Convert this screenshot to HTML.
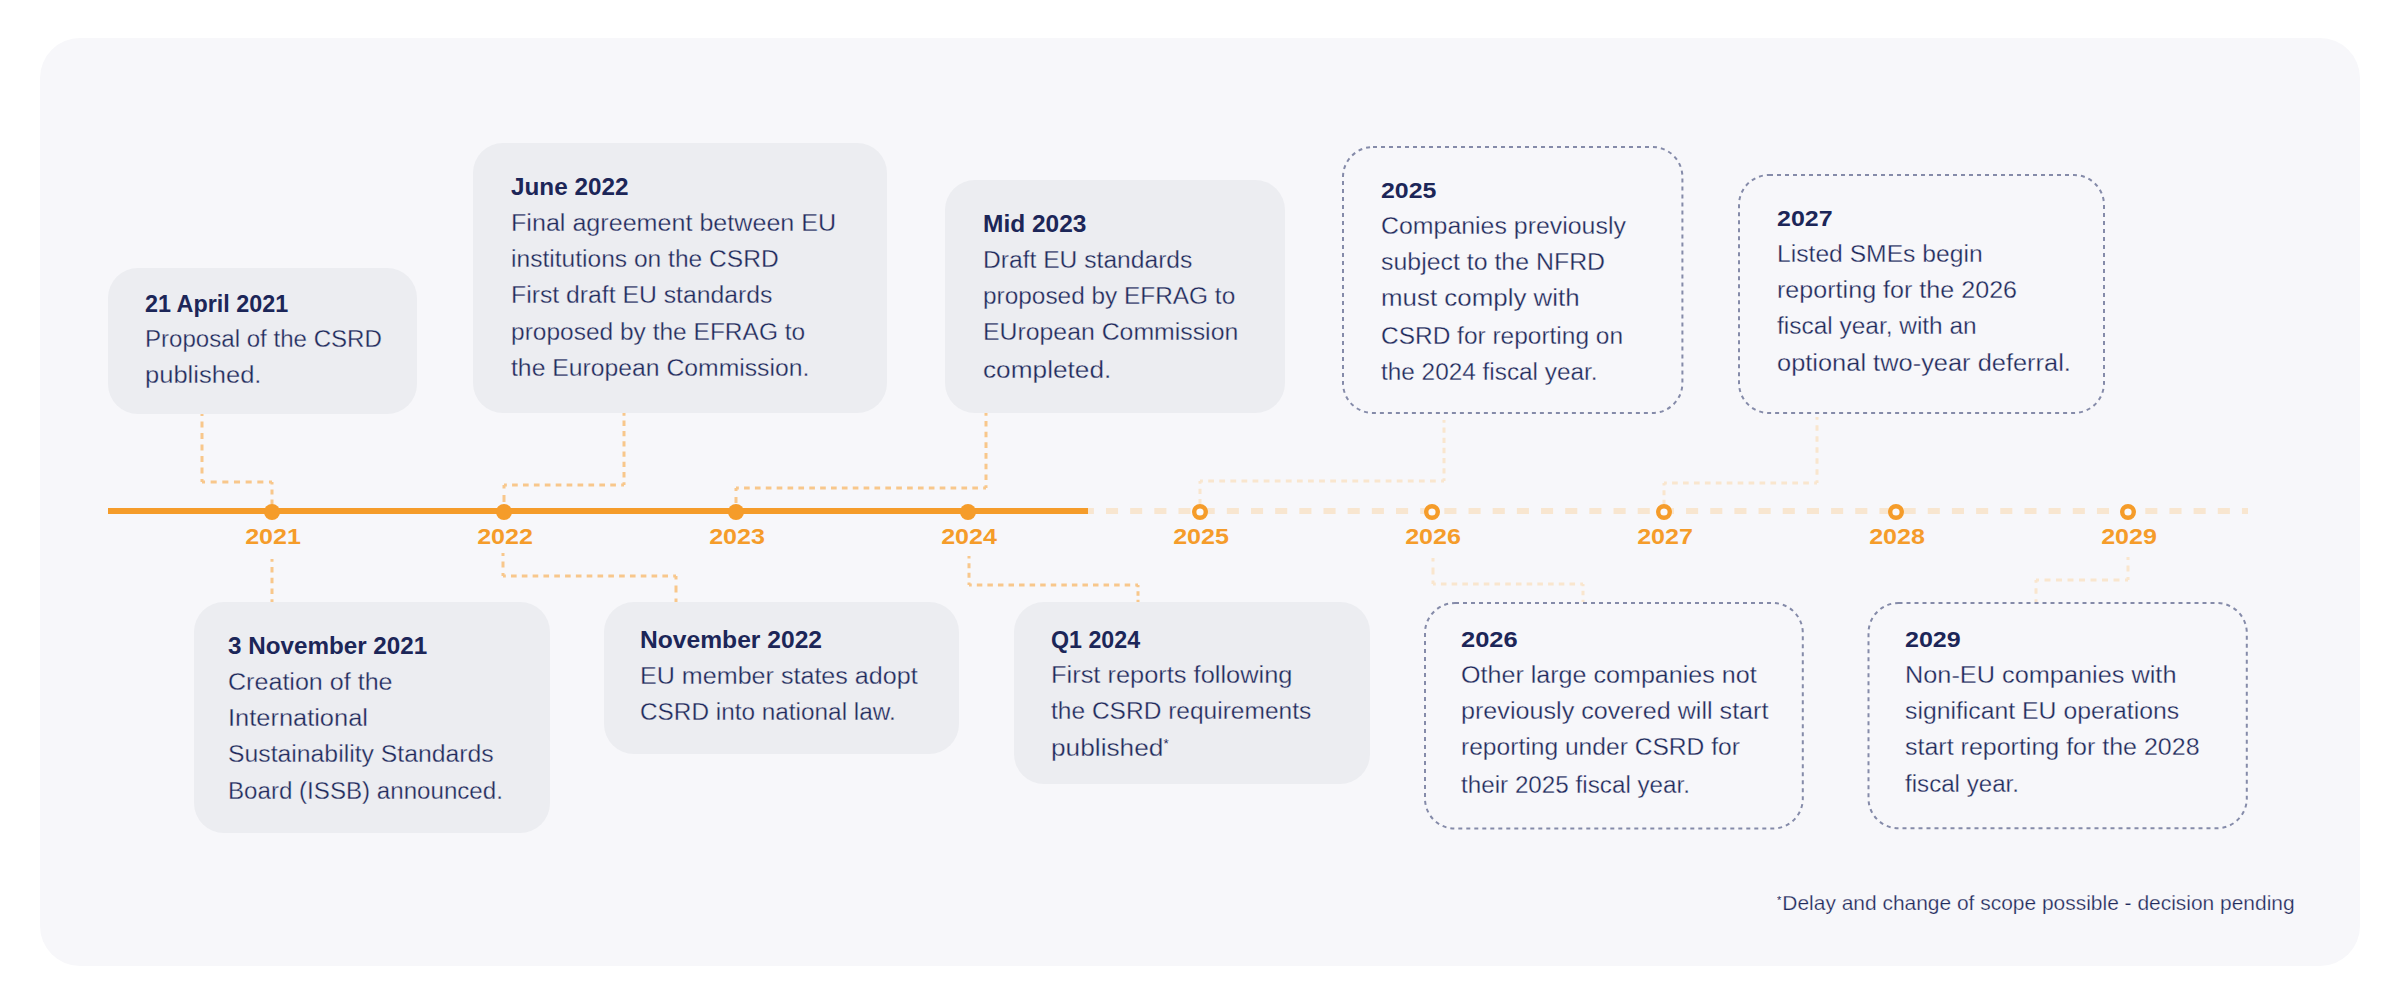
<!DOCTYPE html>
<html>
<head>
<meta charset="utf-8">
<style>
html,body{margin:0;padding:0;background:#ffffff;}
body{width:2400px;height:1002px;position:relative;overflow:hidden;font-family:"Liberation Sans",sans-serif;}
#wrap{position:absolute;left:40px;top:38px;width:2320px;height:928px;background:#f7f7fa;border-radius:40px;}
svg#lines{position:absolute;left:0;top:0;}
.box{position:absolute;box-sizing:border-box;background:#ecedf1;border-radius:30px;}
.l,.t{position:absolute;white-space:nowrap;line-height:36px;transform-origin:0 0;}
.l{font-size:24.7px;color:#1f2a5c;-webkit-text-stroke:0.3px #ecedf1;}
.l.d{-webkit-text-stroke-color:#f7f7fa;}
.t{font-size:24px;font-weight:bold;color:#1c2658;}
.t.n{font-size:21.5px;}
.l sup{font-size:12.5px;line-height:0;vertical-align:8.5px;-webkit-text-stroke:0;}
.yr{position:absolute;width:120px;margin-left:-60px;text-align:center;font-weight:bold;font-size:21.5px;line-height:30px;color:#f59c2a;transform:scaleX(1.165);}
.foot{position:absolute;font-size:20.8px;line-height:26px;color:#1f2a5c;-webkit-text-stroke:0.25px #f7f7fa;white-space:nowrap;transform-origin:0 0;}
.foot sup{font-size:11px;line-height:0;vertical-align:6px;margin-right:1px;-webkit-text-stroke:0;}
</style>
</head>
<body>
<div id="wrap"></div>
<svg id="lines" width="2400" height="1002" viewBox="0 0 2400 1002">
  <g fill="none" stroke="#858ba9" stroke-width="2" stroke-dasharray="4 4">
    <rect x="1343" y="147" width="339.4" height="266" rx="30"/>
    <rect x="1739" y="175" width="365" height="238" rx="30"/>
    <rect x="1425" y="603" width="377.8" height="225.6" rx="30"/>
    <rect x="1868.5" y="603" width="378.3" height="225.3" rx="30"/>
  </g>
<g fill="none">
<line x1="202" y1="413" x2="202" y2="482" stroke="#f8c78b" stroke-width="3" stroke-dasharray="5.980 5.520" stroke-dashoffset="2.990"/>
<line x1="202" y1="482" x2="272" y2="482" stroke="#f8c78b" stroke-width="3" stroke-dasharray="6.067 5.600" stroke-dashoffset="3.033"/>
<line x1="272" y1="482" x2="272" y2="512" stroke="#f8c78b" stroke-width="3" stroke-dasharray="5.200 4.800" stroke-dashoffset="2.600"/>
<line x1="624" y1="413" x2="624" y2="485" stroke="#f8c78b" stroke-width="3" stroke-dasharray="5.349 4.937" stroke-dashoffset="2.674"/>
<line x1="624" y1="485" x2="504" y2="485" stroke="#f8c78b" stroke-width="3" stroke-dasharray="5.673 5.236" stroke-dashoffset="2.836"/>
<line x1="504" y1="485" x2="504" y2="512" stroke="#f8c78b" stroke-width="3" stroke-dasharray="7.020 6.480" stroke-dashoffset="3.510"/>
<line x1="986" y1="413" x2="986" y2="488" stroke="#f8c78b" stroke-width="3" stroke-dasharray="5.571 5.143" stroke-dashoffset="2.786"/>
<line x1="986" y1="488" x2="736" y2="488" stroke="#f8c78b" stroke-width="3" stroke-dasharray="5.652 5.217" stroke-dashoffset="2.826"/>
<line x1="736" y1="488" x2="736" y2="512" stroke="#f8c78b" stroke-width="3" stroke-dasharray="6.240 5.760" stroke-dashoffset="3.120"/>
<line x1="272" y1="559" x2="272" y2="602" stroke="#f8c78b" stroke-width="3" stroke-dasharray="5.590 5.160" stroke-dashoffset="2.795"/>
<line x1="503" y1="553" x2="503" y2="576" stroke="#f8c78b" stroke-width="3" stroke-dasharray="5.980 5.520" stroke-dashoffset="2.990"/>
<line x1="503" y1="576" x2="676" y2="576" stroke="#f8c78b" stroke-width="3" stroke-dasharray="5.623 5.190" stroke-dashoffset="2.811"/>
<line x1="676" y1="576" x2="676" y2="602" stroke="#f8c78b" stroke-width="3" stroke-dasharray="6.760 6.240" stroke-dashoffset="3.380"/>
<line x1="969" y1="556" x2="969" y2="585" stroke="#f8c78b" stroke-width="3" stroke-dasharray="5.027 4.640" stroke-dashoffset="2.513"/>
<line x1="969" y1="585" x2="1138" y2="585" stroke="#f8c78b" stroke-width="3" stroke-dasharray="5.493 5.070" stroke-dashoffset="2.746"/>
<line x1="1138" y1="585" x2="1138" y2="602" stroke="#f8c78b" stroke-width="3" stroke-dasharray="4.420 4.080" stroke-dashoffset="2.210"/>
<line x1="1444" y1="420" x2="1444" y2="481" stroke="#f9e6ce" stroke-width="3" stroke-dasharray="5.287 4.880" stroke-dashoffset="2.643"/>
<line x1="1444" y1="481" x2="1200" y2="481" stroke="#f9e6ce" stroke-width="3" stroke-dasharray="5.767 5.324" stroke-dashoffset="2.884"/>
<line x1="1200" y1="481" x2="1200" y2="512" stroke="#f9e6ce" stroke-width="3" stroke-dasharray="5.373 4.960" stroke-dashoffset="2.687"/>
<line x1="1817" y1="417" x2="1817" y2="483" stroke="#f9e6ce" stroke-width="3" stroke-dasharray="5.720 5.280" stroke-dashoffset="2.860"/>
<line x1="1817" y1="483" x2="1664" y2="483" stroke="#f9e6ce" stroke-width="3" stroke-dasharray="5.683 5.246" stroke-dashoffset="2.841"/>
<line x1="1664" y1="483" x2="1664" y2="512" stroke="#f9e6ce" stroke-width="3" stroke-dasharray="5.027 4.640" stroke-dashoffset="2.513"/>
<line x1="1433" y1="558" x2="1433" y2="584" stroke="#f9e6ce" stroke-width="3" stroke-dasharray="6.760 6.240" stroke-dashoffset="3.380"/>
<line x1="1433" y1="584" x2="1583" y2="584" stroke="#f9e6ce" stroke-width="3" stroke-dasharray="5.571 5.143" stroke-dashoffset="2.786"/>
<line x1="1583" y1="584" x2="1583" y2="602" stroke="#f9e6ce" stroke-width="3" stroke-dasharray="4.680 4.320" stroke-dashoffset="2.340"/>
<line x1="2128" y1="557" x2="2128" y2="580" stroke="#f9e6ce" stroke-width="3" stroke-dasharray="5.980 5.520" stroke-dashoffset="2.990"/>
<line x1="2128" y1="580" x2="2036" y2="580" stroke="#f9e6ce" stroke-width="3" stroke-dasharray="5.980 5.520" stroke-dashoffset="2.990"/>
<line x1="2036" y1="580" x2="2036" y2="602" stroke="#f9e6ce" stroke-width="3" stroke-dasharray="5.720 5.280" stroke-dashoffset="2.860"/>
</g>
  <path d="M1081.8,511 H2248" stroke="#f8e6d0" stroke-width="6" stroke-dasharray="12.085 12.085" fill="none"/>
  <path d="M108,511 H1088" stroke="#f59c2a" stroke-width="6" fill="none"/>
  <g fill="#f59c2a">
    <circle cx="272" cy="512" r="8"/>
    <circle cx="504" cy="512" r="8"/>
    <circle cx="736" cy="512" r="8"/>
    <circle cx="968" cy="512" r="8"/>
  </g>
  <g fill="#f9f9fb" stroke="#f59c2a" stroke-width="4.4">
    <circle cx="1200" cy="512" r="5.8"/>
    <circle cx="1432" cy="512" r="5.8"/>
    <circle cx="1664" cy="512" r="5.8"/>
    <circle cx="1896" cy="512" r="5.8"/>
    <circle cx="2128" cy="512" r="5.8"/>
  </g>
</svg>
<div class="box" style="left:108px;top:268px;width:309px;height:145.5px;"></div>
<div class="box" style="left:473px;top:143px;width:413.5px;height:270.4px;"></div>
<div class="box" style="left:944.7px;top:180px;width:340.7px;height:233px;"></div>
<div class="box" style="left:194px;top:602px;width:355.7px;height:231.3px;"></div>
<div class="box" style="left:603.8px;top:602px;width:355.7px;height:151.8px;"></div>
<div class="box" style="left:1013.8px;top:602px;width:356.1px;height:181.7px;"></div>
<div class="t" style="left:144.8px;top:285.6px;transform:scaleX(0.9727);">21 April 2021</div>
<div class="l" style="left:144.8px;top:321.3px;transform:scaleX(0.9752);">Proposal of the CSRD</div>
<div class="l" style="left:144.8px;top:357.2px;transform:scaleX(1.0345);">published.</div>
<div class="t" style="left:511.4px;top:169.4px;transform:scaleX(1.0122);">June 2022</div>
<div class="l" style="left:511.4px;top:205.1px;transform:scaleX(1.0170);">Final agreement between EU</div>
<div class="l" style="left:511.4px;top:241.1px;transform:scaleX(0.9955);">institutions on the CSRD</div>
<div class="l" style="left:511.4px;top:277.0px;transform:scaleX(1.0031);">First draft EU standards</div>
<div class="l" style="left:511.4px;top:313.6px;transform:scaleX(0.9926);">proposed by the EFRAG to</div>
<div class="l" style="left:511.4px;top:350.3px;transform:scaleX(1.0020);">the European Commission.</div>
<div class="t" style="left:982.8px;top:205.6px;transform:scaleX(1.0199);">Mid 2023</div>
<div class="l" style="left:982.8px;top:241.7px;transform:scaleX(0.9972);">Draft EU standards</div>
<div class="l" style="left:982.8px;top:278.0px;transform:scaleX(0.9882);">proposed by EFRAG to</div>
<div class="l" style="left:982.8px;top:313.9px;transform:scaleX(1.0056);">EUropean Commission</div>
<div class="l" style="left:982.8px;top:351.5px;transform:scaleX(1.0625);">completed.</div>
<div class="t n" style="left:1381.4px;top:172.8px;transform:scaleX(1.1581);">2025</div>
<div class="l d" style="left:1381.4px;top:208.2px;transform:scaleX(1.0083);">Companies previously</div>
<div class="l d" style="left:1381.4px;top:244.0px;transform:scaleX(1.0081);">subject to the NFRD</div>
<div class="l d" style="left:1381.4px;top:279.8px;transform:scaleX(1.0491);">must comply with</div>
<div class="l d" style="left:1381.4px;top:317.6px;transform:scaleX(0.9909);">CSRD for reporting on</div>
<div class="l d" style="left:1381.4px;top:353.9px;transform:scaleX(0.9862);">the 2024 fiscal year.</div>
<div class="t n" style="left:1777px;top:200.7px;transform:scaleX(1.1616);">2027</div>
<div class="l d" style="left:1777px;top:235.8px;transform:scaleX(0.9991);">Listed SMEs begin</div>
<div class="l d" style="left:1777px;top:271.5px;transform:scaleX(1.0170);">reporting for the 2026</div>
<div class="l d" style="left:1777px;top:307.5px;transform:scaleX(0.9900);">fiscal year, with an</div>
<div class="l d" style="left:1777px;top:344.5px;transform:scaleX(1.0297);">optional two-year deferral.</div>
<div class="t" style="left:227.8px;top:628.2px;transform:scaleX(1.0091);">3 November 2021</div>
<div class="l" style="left:227.8px;top:664.0px;transform:scaleX(1.0162);">Creation of the</div>
<div class="l" style="left:227.8px;top:700.1px;transform:scaleX(1.0299);">International</div>
<div class="l" style="left:227.8px;top:735.5px;transform:scaleX(1.0030);">Sustainability Standards</div>
<div class="l" style="left:227.8px;top:773.4px;transform:scaleX(0.9771);">Board (ISSB) announced.</div>
<div class="t" style="left:640.2px;top:621.8px;transform:scaleX(1.0261);">November 2022</div>
<div class="l" style="left:640.2px;top:657.6px;transform:scaleX(1.0169);">EU member states adopt</div>
<div class="l" style="left:640.2px;top:693.6px;transform:scaleX(0.9861);">CSRD into national law.</div>
<div class="t" style="left:1051px;top:621.6px;transform:scaleX(0.9676);">Q1 2024</div>
<div class="l" style="left:1051px;top:657.2px;transform:scaleX(1.0292);">First reports following</div>
<div class="l" style="left:1051px;top:693.4px;transform:scaleX(0.9931);">the CSRD requirements</div>
<div class="l" style="left:1051px;top:729.6px;transform:scaleX(1.0637);">published<sup>*</sup></div>
<div class="t n" style="left:1461.2px;top:622.3px;transform:scaleX(1.1847);">2026</div>
<div class="l d" style="left:1461.2px;top:657.2px;transform:scaleX(1.0165);">Other large companies not</div>
<div class="l d" style="left:1461.2px;top:692.7px;transform:scaleX(1.0186);">previously covered will start</div>
<div class="l d" style="left:1461.2px;top:729.0px;transform:scaleX(0.9964);">reporting under CSRD for</div>
<div class="l d" style="left:1461.2px;top:766.7px;transform:scaleX(0.9818);">their 2025 fiscal year.</div>
<div class="t n" style="left:1904.6px;top:622.3px;transform:scaleX(1.1646);">2029</div>
<div class="l d" style="left:1904.6px;top:657.2px;transform:scaleX(1.0251);">Non-EU companies with</div>
<div class="l d" style="left:1904.6px;top:693.1px;transform:scaleX(1.0037);">significant EU operations</div>
<div class="l d" style="left:1904.6px;top:729.0px;transform:scaleX(1.0124);">start reporting for the 2028</div>
<div class="l d" style="left:1904.6px;top:766.0px;transform:scaleX(0.9774);">fiscal year.</div>
<div class="yr" style="left:272.5px;top:522px;">2021</div>
<div class="yr" style="left:504.5px;top:522px;">2022</div>
<div class="yr" style="left:736.5px;top:522px;">2023</div>
<div class="yr" style="left:968.5px;top:522px;">2024</div>
<div class="yr" style="left:1200.5px;top:522px;">2025</div>
<div class="yr" style="left:1432.5px;top:522px;">2026</div>
<div class="yr" style="left:1664.5px;top:522px;">2027</div>
<div class="yr" style="left:1896.5px;top:522px;">2028</div>
<div class="yr" style="left:2128.5px;top:522px;">2029</div>
<div class="foot" style="left:1777px;top:890px;transform:scaleX(1.0070);"><sup>*</sup>Delay and change of scope possible - decision pending</div>
</body>
</html>
